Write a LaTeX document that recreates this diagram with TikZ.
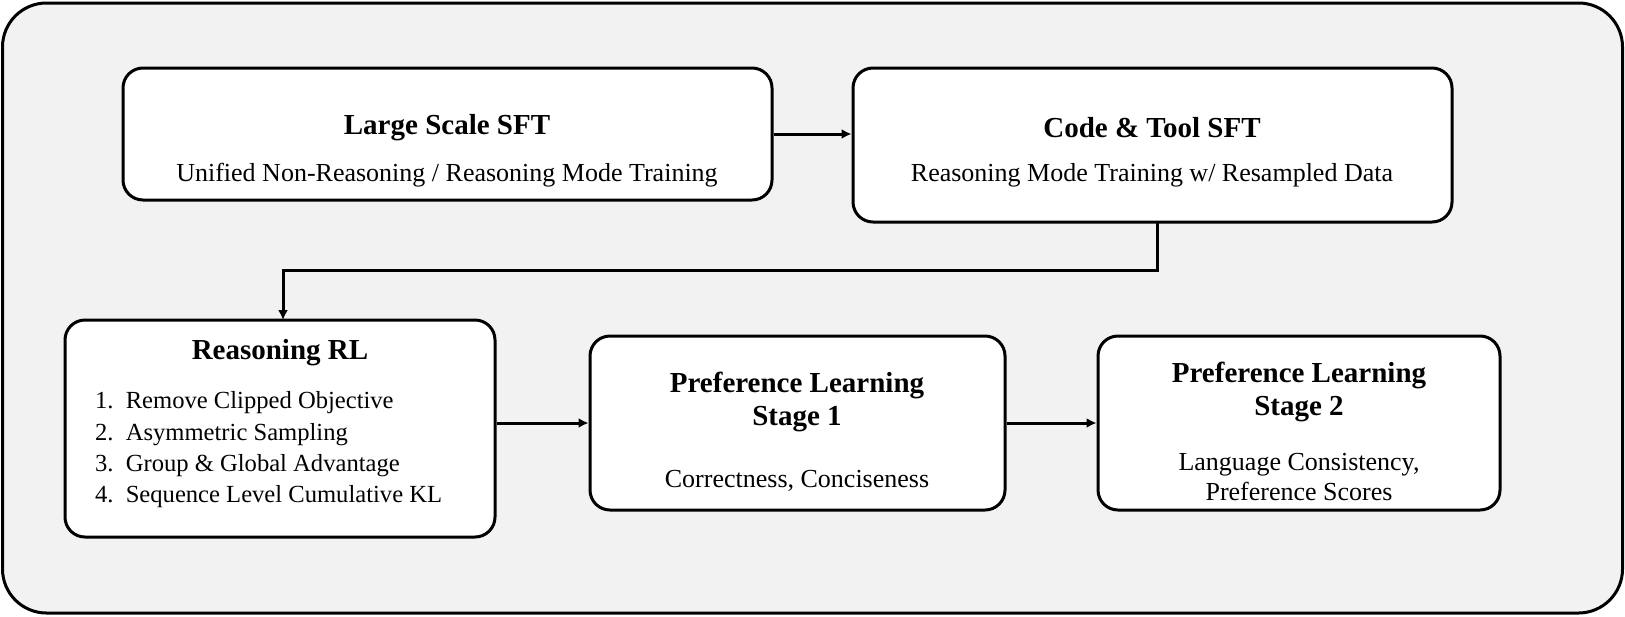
\documentclass[tikz,border=0pt]{standalone}
\usepackage{fontspec}
\setmainfont{Liberation Serif}
\usetikzlibrary{arrows.meta}
\begin{document}
\begin{tikzpicture}[x=0.5pt,y=-0.5pt,
  stagebox/.style={draw,line width=1.5pt,rounded corners=10pt,fill=white,inner sep=0pt},
  ttl/.style={font=\fontsize{14.5}{16.5}\selectfont\bfseries,align=center},
  sub/.style={font=\fontsize{13}{15}\selectfont,align=center},
  itm/.style={font=\fontsize{12.3}{14}\selectfont,anchor=west},
  conn/.style={line width=1.5pt,-{Latex[length=5pt,width=5pt]}}]
\useasboundingbox (0,0) rectangle (1625,616);
\node[draw,line width=1.5pt,rounded corners=22pt,fill=black!5,minimum width=810pt,minimum height=305pt] (outer) at (812.5,308) {};
\node[stagebox,minimum width=324.5pt,minimum height=66pt] (b1) at (447.5,134) {};
\node[stagebox,minimum width=299.5pt,minimum height=77pt] (b2) at (1152.5,145) {};
\node[stagebox,minimum width=215pt,minimum height=108.5pt] (b3) at (280,428.5) {};
\node[stagebox,minimum width=207.5pt,minimum height=87pt] (b4) at (797.5,423) {};
\node[stagebox,minimum width=201pt,minimum height=87pt] (b5) at (1299,423) {};
\node[ttl] (t1) at (447,128) {Large Scale SFT};
\node[sub] (s1) at (447,175) {Unified Non-Reasoning / Reasoning Mode Training};
\node[ttl] (t2) at (1152,128) {Code \& Tool SFT};
\node[sub] (s2) at (1152,175) {Reasoning Mode Training w/ Resampled Data};
\node[ttl] (t3) at (280,353) {Reasoning RL};
\node[itm] (i1) at (88,403) {1.\ \ Remove Clipped Objective};
\node[itm] (i2) at (88,435) {2.\ \ Asymmetric Sampling};
\node[itm] (i3) at (88,466) {3.\ \ Group \& Global Advantage};
\node[itm] (i4) at (88,497) {4.\ \ Sequence Level Cumulative KL};
\node[ttl] (t4) at (797,402) {Preference Learning\\Stage 1};
\node[sub] (s4) at (797,481) {Correctness, Conciseness};
\node[ttl] (t5) at (1299,392) {Preference Learning\\Stage 2};
\node[sub] (s5) at (1299,477) {Language Consistency,\\Preference Scores};
\coordinate (c2) at (1157,222);
\coordinate (c3) at (283,320);
\draw[conn] (b1.east) -- (b2.west |- b1.east);
\draw[conn] (c2) -- (1157,270) -| (c3);
\draw[conn] (b3.east |- b4.center) -- (b4.west);
\draw[conn] (b4.east) -- (b5.west);
\end{tikzpicture}
\end{document}
